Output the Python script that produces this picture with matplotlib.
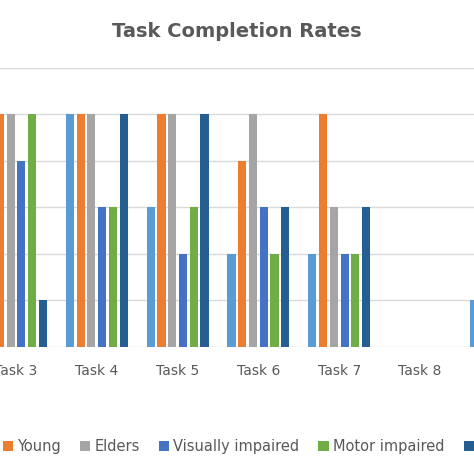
import matplotlib
matplotlib.use("Agg")
import matplotlib.pyplot as plt
import numpy as np

tasks = ["Task 3", "Task 4", "Task 5", "Task 6", "Task 7", "Task 8", "Task 9"]
series = ["Adults", "Young", "Elders", "Visually impaired", "Motor impaired", "Hearing impaired"]
adults = [5, 5, 3, 2, 2, 0, 1]
young = [5, 5, 5, 4, 5, 0, 0]
elders = [5, 5, 5, 5, 3, 0, 0]
visually = [4, 3, 2, 3, 2, 0, 0]
motor = [5, 3, 3, 2, 2, 0, 0]
hearing = [1, 5, 5, 3, 3, 0, 0]
values = [adults, young, elders, visually, motor, hearing]
colors = ["#5B9BD5", "#ED7D31", "#A5A5A5", "#4472C4", "#70AD47", "#255E91"]

fig = plt.figure(figsize=(4.74, 4.74), dpi=100)
ax = fig.add_axes([0, 0.268, 1, 0.589])
x = np.arange(len(tasks))
slot = 0.133
for i, (vals, c, name) in enumerate(zip(values, colors, series)):
    ax.bar(x + (i - 2.5) * slot, vals, width=0.1, color=c, label=name, zorder=3)

ax.set_yticks(range(0, 7))
ax.yaxis.grid(True, color="#D9D9D9", lw=1, zorder=0)
ax.tick_params(left=False, labelleft=False, bottom=False)
for s in ax.spines.values():
    s.set_visible(False)
ax.set_xticks(x)
ax.set_xticklabels(tasks, fontsize=10, color="#595959")
ax.tick_params(axis="x", pad=9)
ax.set_ylim(0, 6)
ax.set_xlim(-0.198, -0.198 + 474 / 80.8)

fig.text(0.5, 0.933, "Task Completion Rates", ha="center", va="center",
         fontsize=14, color="#595959", fontweight="semibold")

leg = fig.legend(loc="center left", bbox_to_anchor=(-0.19, 0.058), ncol=6, frameon=False,
                 fontsize=10.5, handlelength=0.7, handleheight=0.7, columnspacing=1.3,
                 handletextpad=0.3, labelcolor="#595959")
fig.savefig("out.png", dpi=100)
